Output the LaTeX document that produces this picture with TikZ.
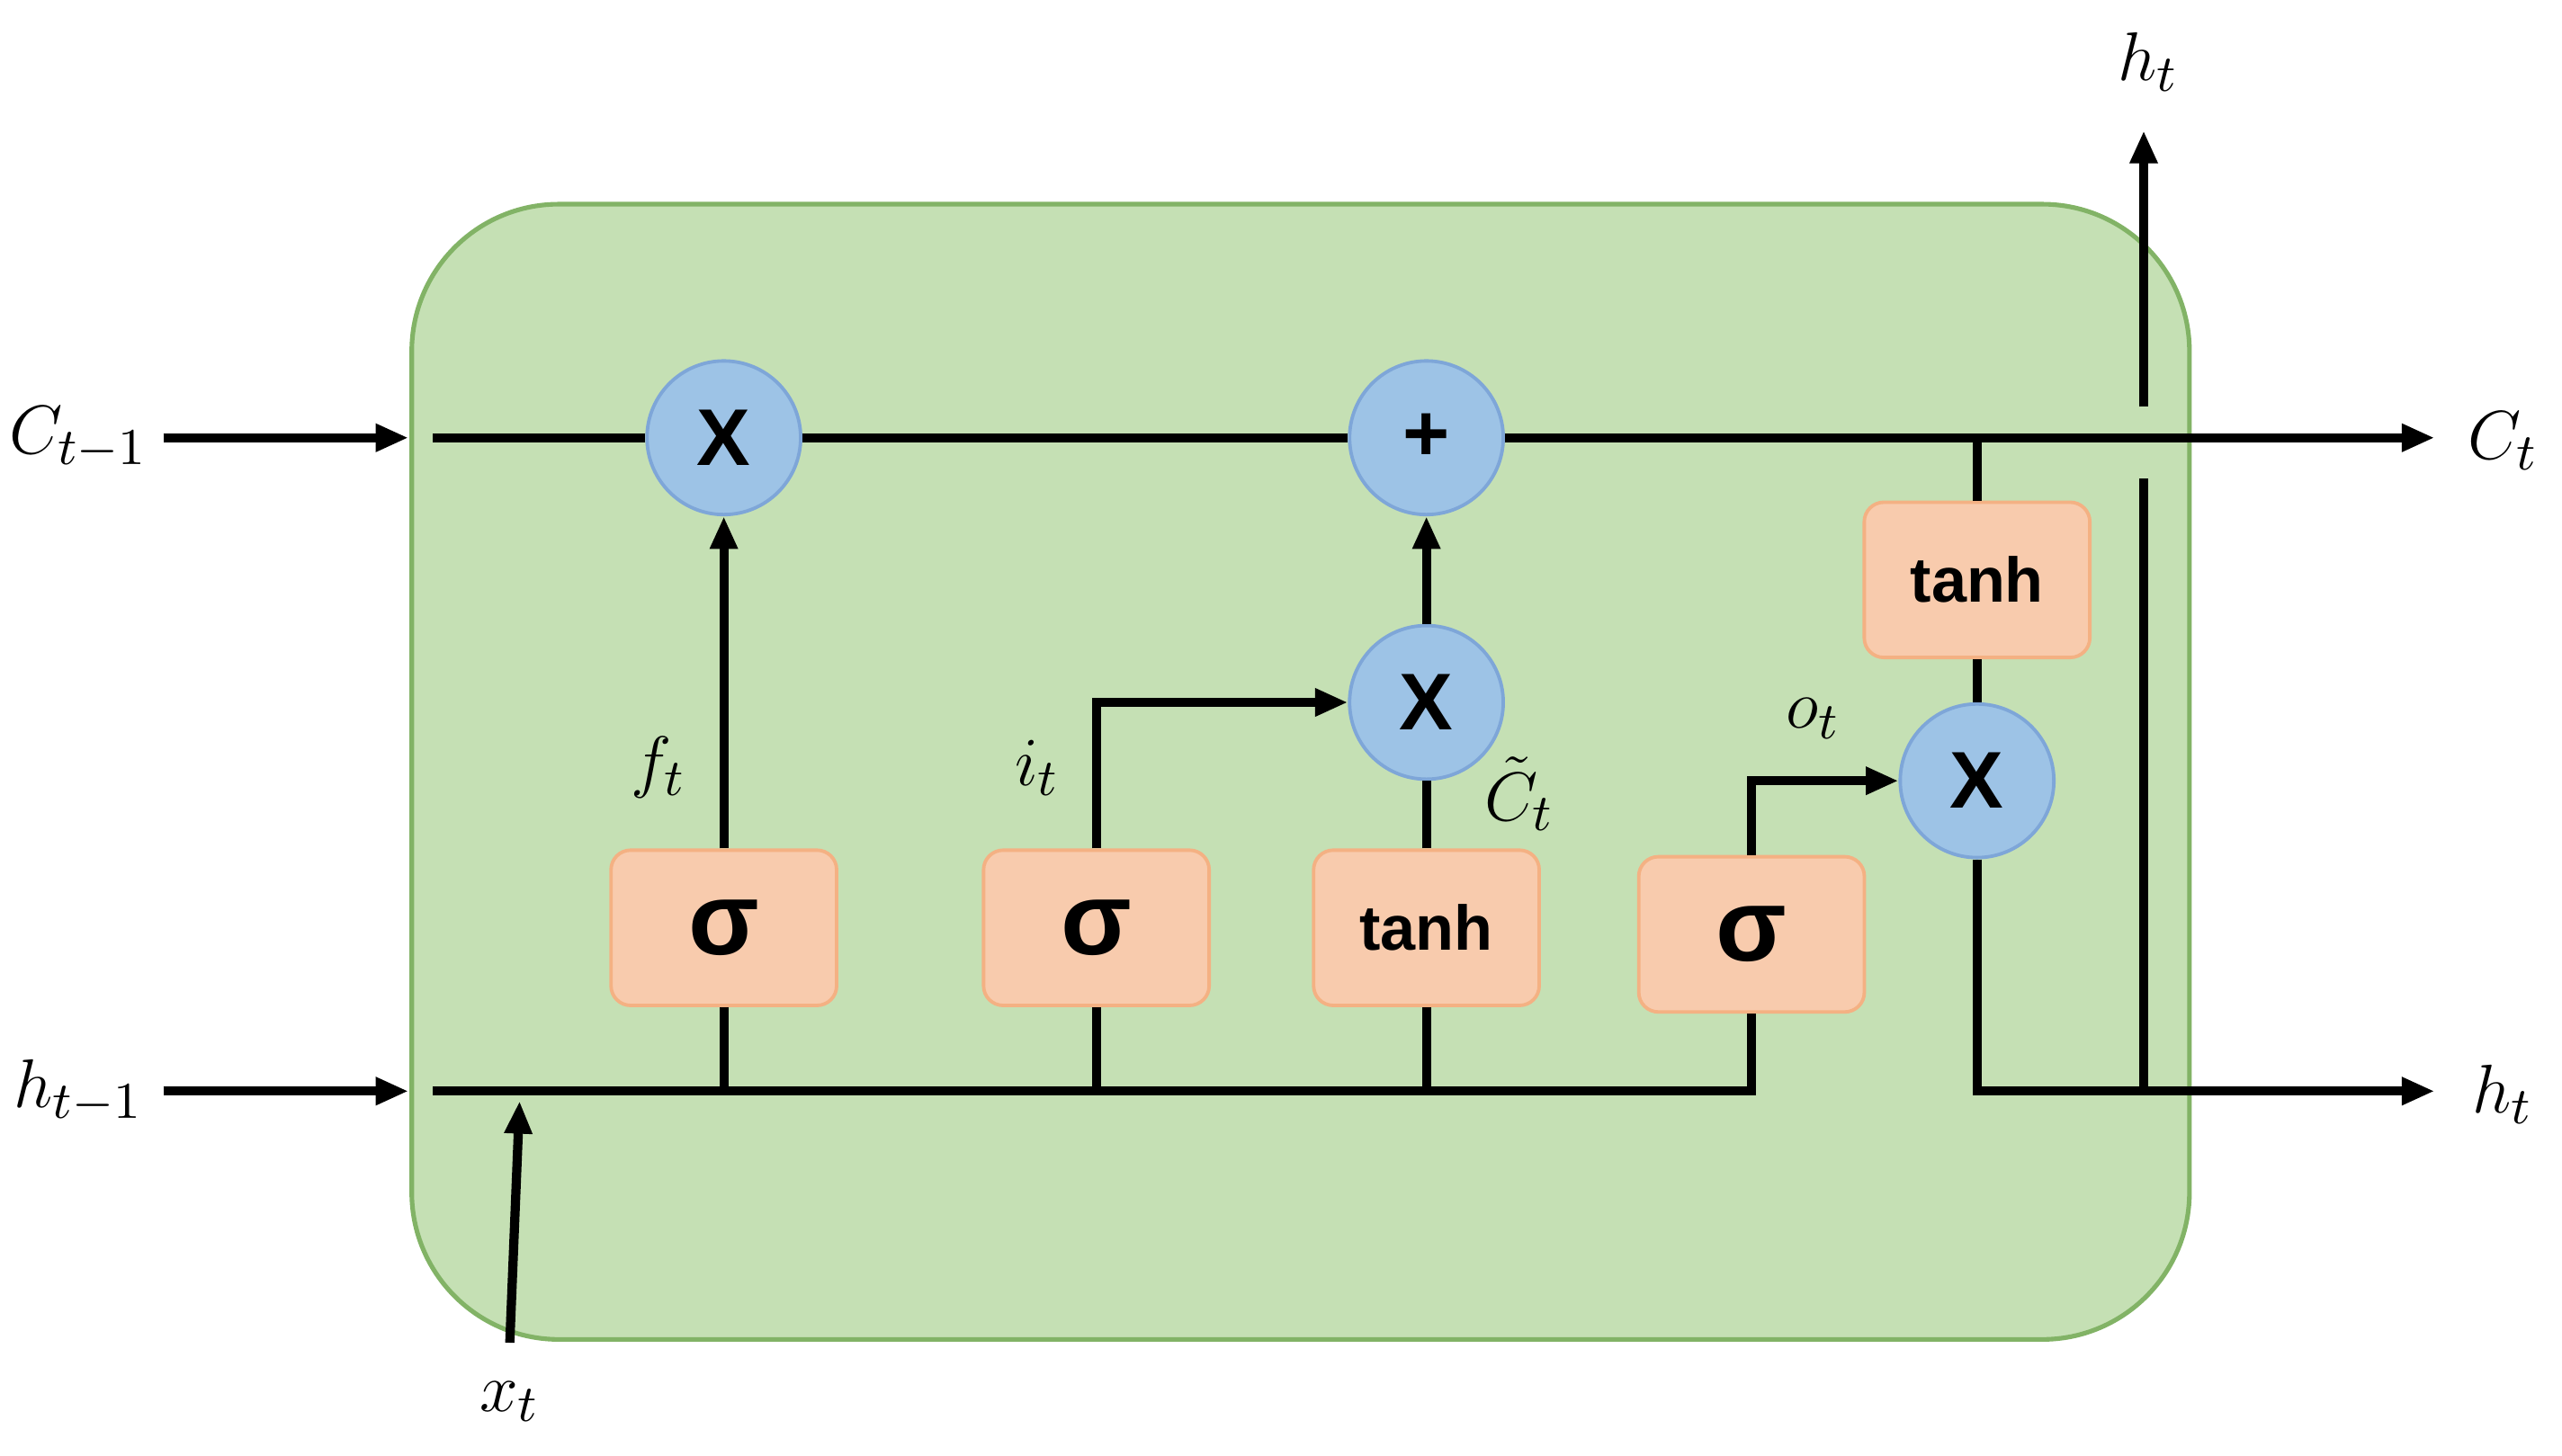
\documentclass[tikz,border=0pt]{standalone}
\usepackage{fontspec}
\newfontfamily\lab{Liberation Sans}
\usetikzlibrary{arrows.meta}
\definecolor{cellfill}{HTML}{C5E0B4}
\definecolor{celldraw}{HTML}{82B366}
\definecolor{opfill}{HTML}{9DC3E6}
\definecolor{opdraw}{HTML}{7EA6D8}
\definecolor{gfill}{HTML}{F8CBAD}
\definecolor{gdraw}{HTML}{F4B183}
\begin{document}
\begin{tikzpicture}[x=0.01cm,y=-0.01cm,
  op/.style={circle,fill=opfill,draw=opdraw,line width=0.6pt,minimum size=0.94cm,inner sep=0pt,font=\lab\bfseries\fontsize{14}{14}\selectfont},
  gate/.style={rectangle,rounded corners=0.12cm,fill=gfill,draw=gdraw,line width=0.6pt,minimum width=1.38cm,minimum height=0.95cm,inner sep=0pt,font=\lab\bfseries\fontsize{11}{11}\selectfont},
  sig/.style={gate,font=\lab\bfseries\fontsize{18}{18}\selectfont},
  ln/.style={line width=1.6pt},
  ar/.style={ln,-{Triangle[length=0.2cm,width=0.16cm]}},
  lbl/.style={font=\fontsize{13}{13}\selectfont}]
\useasboundingbox (0,0) rectangle (1568,891);
\draw[fill=cellfill,draw=celldraw,line width=0.8pt,rounded corners=0.9cm] (252,125) rectangle (1340,820);
\node[op] (m1) at (443,268) {X};
\node[op] (add) at (873,268) {+};
\node[op] (m2) at (873,430) {X};
\node[op] (m3) at (1210,478) {X};
\node[sig] (s1) at (443,568) {σ};
\node[sig] (s2) at (671,568) {σ};
\node[gate] (t1) at (873,568) {tanh};
\node[sig] (s3) at (1072,572) {σ};
\node[gate] (t2) at (1210,355) {tanh};
\coordinate (cinS) at (100,268); \coordinate (cinE) at (250,268);
\coordinate (hinS) at (100,668); \coordinate (hinE) at (250,668);
\coordinate (cl) at (265,268); \coordinate (cout) at (1490,268);
\coordinate (hl) at (265,668); \coordinate (hcorner) at (1072,668);
\coordinate (hout) at (1490,668);
\draw[ar] (cinS) -- (cinE);
\draw[ar] (hinS) -- (hinE);
\draw[ar] (cl) -- (m1) -- (add) -- (cout);
\draw[ln] (hl) -- (hcorner) -- (s3);
\draw[ln] (s1) -- (443,668);
\draw[ln] (s2) -- (671,668);
\draw[ln] (t1) -- (873,668);
\draw[ar] (s1) -- (m1);
\draw[ar] (s2.north) |- (m2);
\draw[ln] (t1) -- (m2);
\draw[ar] (m2) -- (add);
\draw[ar] (s3.north) |- (m3);
\draw[ln] (1210,268) -- (t2);
\draw[ln] (t2) -- (m3);
\draw[ar] (m3) |- (hout);
\draw[ln] (1312,668) -- (1312,293);
\draw[ar] (1312,249) -- (1312,80);
\draw[ar] (312,822) -- (318,674);
\node[lbl] at (48,268) {$C_{t-1}$};
\node[lbl] at (1532,270) {$C_t$};
\node[lbl] at (48,668) {$h_{t-1}$};
\node[lbl] at (1532,670) {$h_t$};
\node[lbl] at (1315,38) {$h_t$};
\node[lbl] at (312,858) {$x_t$};
\node[lbl] at (403,470) {$f_t$};
\node[lbl] at (635,470) {$i_t$};
\node[lbl] at (930,486) {$\tilde C_t$};
\node[lbl] at (1110,440) {$o_t$};
\end{tikzpicture}
\end{document}
